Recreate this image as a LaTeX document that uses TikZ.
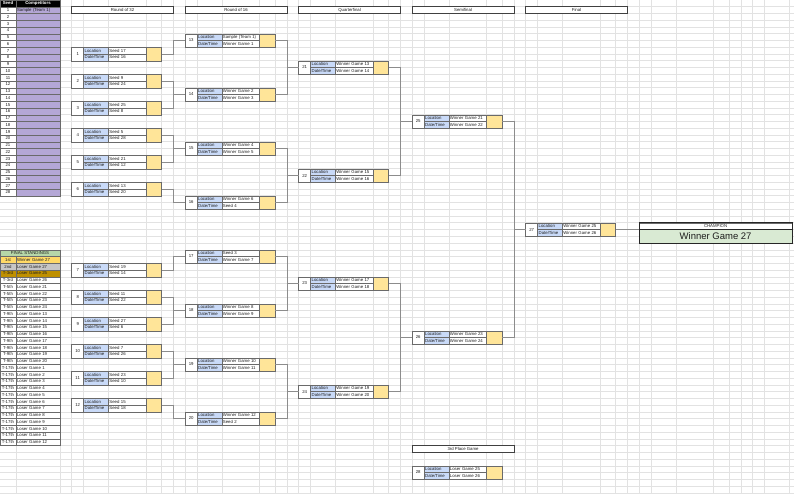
\documentclass[tikz,border=0pt]{standalone}
\usepackage{fontspec}
\setmainfont{Liberation Sans}
\definecolor{gridc}{HTML}{E2E2E2}
\definecolor{cellline}{HTML}{6A6A6A}
\definecolor{connc}{HTML}{8C8C8C}
\definecolor{locblue}{HTML}{C9DAF8}
\definecolor{yel}{HTML}{FFE599}
\definecolor{purp}{HTML}{B4A7D6}
\definecolor{champgreen}{HTML}{D9EAD3}
\definecolor{stgreen}{HTML}{B6D7A8}
\definecolor{firstc}{HTML}{FFD966}
\definecolor{secondc}{HTML}{C6C6C6}
\definecolor{thirdc}{HTML}{BF9000}
\definecolor{txt}{HTML}{1E1E1E}

% one match: number cell, two location/team rows and the result cell
\newcommand\game[6]{%
  \node[numcell] (#1) at (71.7+113.5*#2, #3*6.75) {#4};
  \node[loccell] (#1a) at (83.7+113.5*#2, #3*6.75) {Location};
  \node[loccell] (#1b) at (83.7+113.5*#2, #3*6.75+6.75) {Date/Time};
  \node[teamcell] (#1c) at (108.4+113.5*#2, #3*6.75) {#5};
  \node[teamcell] (#1d) at (108.4+113.5*#2, #3*6.75+6.75) {#6};
  \node[yelcell] (#1y) at (146.2+113.5*#2, #3*6.75) {};
}
% one line of the standings table
\newcommand\stand[4]{%
  \node[stcell, fill=#4, minimum width=16pt, align=center] (st#1a) at (0,#1*6.75) {#2};
  \node[stcell, fill=#4, text width=42pt, inner xsep=1pt, align=left] (st#1b) at (16,#1*6.75) {#3};
}

\begin{document}
\begin{tikzpicture}[x=1pt, y=-1pt,
  font=\fontsize{4.3}{5}\selectfont, text=txt,
  cell/.style={draw=cellline, line width=0.45pt, inner sep=0pt, outer sep=0pt,
    minimum height=6.75pt, anchor=north west},
  numcell/.style={cell, fill=white, minimum width=12pt, minimum height=13.5pt},
  loccell/.style={cell, fill=locblue, text width=22.7pt, inner xsep=1pt, align=left},
  teamcell/.style={cell, fill=white, text width=35.8pt, inner xsep=1pt, align=left},
  yelcell/.style={cell, fill=yel, minimum width=15.5pt, minimum height=13.5pt},
  roundhead/.style={cell, fill=white, draw=black!75, line width=0.7pt, minimum width=101.7pt},
  seedcell/.style={cell, fill=white, minimum width=16pt},
  compcell/.style={cell, fill=purp, text width=42pt, inner xsep=1pt, align=left},
  stcell/.style={cell},
  conn/.style={draw=connc, line width=0.8pt},
]
\useasboundingbox (0,0) rectangle (794,494);
\fill[white] (0,0) rectangle (794,494);

% sheet grid
\foreach \r in {1,...,73} \draw[gridc, line width=0.5pt] (0,\r*6.75) -- (794,\r*6.75);
\foreach \x in {16,60,71.7} \draw[gridc, line width=0.5pt] (\x,0) -- (\x,494);
\foreach \k in {0,...,6}
  \foreach \d in {0,12,36.7,74.5,90,101.7}
    \draw[gridc, line width=0.5pt] (71.7+113.5*\k+\d,0) -- (71.7+113.5*\k+\d,494);

% seed list
\node[cell, fill=black, minimum width=16pt, text=white, font=\fontsize{4.3}{5}\selectfont\bfseries] (seedh) at (0,0) {Seed};
\node[cell, fill=black, minimum width=44pt, text=white, font=\fontsize{4.3}{5}\selectfont\bfseries] (comph) at (16,0) {Competitors};
\node[seedcell] (s1) at (0,6.75) {1};
\node[compcell] (c1) at (16,6.75) {Sample (Team 1)};
\foreach \s in {2,...,28} {
  \node[seedcell] (s\s) at (0,\s*6.75) {\s};
  \node[compcell] (c\s) at (16,\s*6.75) {};
}

% standings
\node[cell, fill=stgreen, minimum width=60pt] (fsh) at (0,37*6.75) {FINAL STANDINGS};
\stand{38}{1st}{Winner Game 27}{firstc}
\stand{39}{2nd}{Loser Game 27}{secondc}
\stand{40}{T-3rd}{Loser Game 25}{thirdc}
\stand{41}{T-3rd}{Loser Game 26}{white}
\foreach \r/\g in {42/21,43/22,44/23,45/24} {\stand{\r}{T-5th}{Loser Game \g}{white}}
\foreach \r/\g in {46/13,47/14,48/15,49/16,50/17,51/18,52/19,53/20} {\stand{\r}{T-9th}{Loser Game \g}{white}}
\foreach \r/\g in {54/1,55/2,56/3,57/4,58/5,59/6,60/7,61/8,62/9,63/10,64/11,65/12} {\stand{\r}{T-17th}{Loser Game \g}{white}}

% round titles
\node[roundhead] (h0) at (71.7,6.75) {Round of 32};
\node[roundhead] (h1) at (185.2,6.75) {Round of 16};
\node[roundhead] (h2) at (298.7,6.75) {Quarterfinal};
\node[roundhead] (h3) at (412.2,6.75) {Semifinal};
\node[roundhead] (h4) at (525.7,6.75) {Final};
\node[roundhead] (h5) at (412.2,66*6.75) {3rd Place Game};

% round of 32
\game{g1}{0}{7}{1}{Seed 17}{Seed 16}
\game{g2}{0}{11}{2}{Seed 9}{Seed 24}
\game{g3}{0}{15}{3}{Seed 25}{Seed 8}
\game{g4}{0}{19}{4}{Seed 5}{Seed 28}
\game{g5}{0}{23}{5}{Seed 21}{Seed 12}
\game{g6}{0}{27}{6}{Seed 13}{Seed 20}
\game{g7}{0}{39}{7}{Seed 19}{Seed 14}
\game{g8}{0}{43}{8}{Seed 11}{Seed 22}
\game{g9}{0}{47}{9}{Seed 27}{Seed 6}
\game{g10}{0}{51}{10}{Seed 7}{Seed 26}
\game{g11}{0}{55}{11}{Seed 23}{Seed 10}
\game{g12}{0}{59}{12}{Seed 15}{Seed 18}
% round of 16
\game{g13}{1}{5}{13}{Sample (Team 1)}{Winner Game 1}
\game{g14}{1}{13}{14}{Winner Game 2}{Winner Game 3}
\game{g15}{1}{21}{15}{Winner Game 4}{Winner Game 5}
\game{g16}{1}{29}{16}{Winner Game 6}{Seed 4}
\game{g17}{1}{37}{17}{Seed 3}{Winner Game 7}
\game{g18}{1}{45}{18}{Winner Game 8}{Winner Game 9}
\game{g19}{1}{53}{19}{Winner Game 10}{Winner Game 11}
\game{g20}{1}{61}{20}{Winner Game 12}{Seed 2}
% quarterfinals
\game{g21}{2}{9}{21}{Winner Game 13}{Winner Game 14}
\game{g22}{2}{25}{22}{Winner Game 15}{Winner Game 16}
\game{g23}{2}{41}{23}{Winner Game 17}{Winner Game 18}
\game{g24}{2}{57}{24}{Winner Game 19}{Winner Game 20}
% semifinals and 3rd place
\game{g25}{3}{17}{25}{Winner Game 21}{Winner Game 22}
\game{g26}{3}{49}{26}{Winner Game 23}{Winner Game 24}
\game{g28}{3}{69}{28}{Loser Game 25}{Loser Game 26}
% final
\game{g27}{4}{33}{27}{Winner Game 25}{Winner Game 26}

% champion
\node[cell, fill=white, minimum width=152.8pt] (champh) at (639.2,33*6.75) {CHAMPION};
\node[cell, fill=champgreen, minimum width=152.8pt, minimum height=13.5pt,
  font=\fontsize{9.5}{11}\selectfont] (champ) at (639.2,34*6.75) {Winner Game 27};
\draw[black!85, line width=1pt] (champh.north west) rectangle (champ.south east);
\draw[black!85, line width=0.8pt] (champh.south west) -- (champh.south east);

% bracket lines
\foreach \a/\b in {g1/g13,g2/g14,g3/g14,g4/g15,g5/g15,g6/g16,g7/g17,g8/g18,g9/g18,g10/g19,g11/g19,g12/g20,
  g13/g21,g14/g21,g15/g22,g16/g22,g17/g23,g18/g23,g19/g24,g20/g24,
  g21/g25,g22/g25,g23/g26,g24/g26,g25/g27,g26/g27}
  \draw[conn] (\a y.east) -- ++(11.7,0) |- (\b.west);
\draw[conn] (g27y.east) -- (champh.south west);
\end{tikzpicture}
\end{document}
